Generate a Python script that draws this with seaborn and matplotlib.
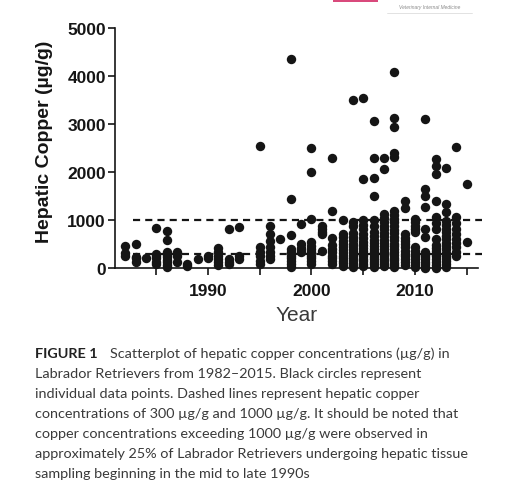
import pandas as pd
import seaborn as sns
from matplotlib import pyplot as plt
from matplotlib.patches import Rectangle

sns.set_theme(style="ticks")
plt.rcParams["font.family"] = ["Liberation Sans", "DejaVu Sans"]

# hepatic copper (ug/g), one list per year
years = list(range(1982, 2016))
copper_values = [
    [450, 320, 260],                                             # 1982
    [490, 230, 120, 200],                                        # 1983
    [200],                                                       # 1984
    [840, 290, 200, 120, 80, 250],                               # 1985
    [780, 590, 330, 220, 120, 20, 280, 170, 60],                 # 1986
    [330, 120, 250],                                             # 1987
    [50, 90],                                                    # 1988
    [190],                                                       # 1989
    [240, 200],                                                  # 1990
    [410, 260, 120, 60, 330, 180],                               # 1991
    [810, 190, 80, 130],                                         # 1992
    [860, 260, 190],                                             # 1993
    [],                                                          # 1994
    [2550, 430, 260, 150, 80, 330],                              # 1995
    [880, 710, 430, 260, 190, 330, 560],                         # 1996
    [600],                                                       # 1997
    [4350, 1440, 690, 400, 260, 150, 15, 330, 80, 200],          # 1998
    [920, 500, 330, 420, 380],                                   # 1999
    [2510, 2010, 1020, 540, 400, 260, 150, 330, 460, 200, 90],   # 2000
    [880, 710, 360, 740, 820],                                   # 2001
    [2300, 1180, 620, 330, 150, 250, 80, 200, 400, 470],         # 2002
    [990, 700, 560, 500, 440, 380, 320, 260, 200, 150, 100, 40, 640],
    [3510, 950, 880, 720, 650, 580, 510, 450, 390, 330, 270, 210, 160, 110, 60, 20],
    [3550, 1850, 990, 900, 810, 700, 620, 550, 480, 420, 360, 300, 240, 190, 140, 90, 40],
    [3060, 2300, 1870, 1510, 990, 880, 740, 660, 590, 520, 460, 400, 340, 290, 230, 180, 130, 80, 30],
    [2290, 2060, 1120, 1050, 960, 880, 810, 730, 660, 590, 520, 460, 400, 340, 290, 240, 190, 140, 90, 40],
    [4080, 3120, 2930, 2400, 2310, 1180, 1100, 1020, 960, 880, 800, 720, 650, 580, 510, 450, 390,
     330, 270, 210, 160, 110, 60, 20],
    [1400, 1260, 700, 620, 560, 500, 430, 360, 300, 240, 180, 120, 60],       # 2009
    [1020, 960, 880, 810, 740, 430, 360, 300, 240, 190, 130, 70, 20],          # 2010
    [3100, 1650, 1510, 1270, 810, 650, 330, 280, 230, 180, 130, 80, 30, 0],    # 2011
    [2270, 2130, 1960, 1400, 1060, 930, 820, 600, 480, 420, 360, 300, 240, 180, 120, 60, 10],
    [2080, 1330, 1160, 980, 900, 820, 740, 670, 600, 530, 460, 390, 320, 260, 200, 140, 80, 30],
    [2530, 1060, 940, 810, 700, 600, 520, 430, 340, 260],                      # 2014
    [1750, 540],                                                               # 2015
]

ref_levels = [300, 1000]

caption_lines = [
    "Labrador Retrievers from 1982\u20132015. Black circles represent",
    "individual data points. Dashed lines represent hepatic copper",
    "concentrations of 300 \u00b5g/g and 1000 \u00b5g/g. It should be noted that",
    "copper concentrations exceeding 1000 \u00b5g/g were observed in",
    "approximately 25% of Labrador Retrievers undergoing hepatic tissue",
    "sampling beginning in the mid to late 1990s",
]

df = pd.DataFrame({"year": years, "copper": copper_values}).explode("copper")
df = df.dropna()
df["year"] = df["year"].astype(float)
df["copper"] = df["copper"].astype(float)

W, H = 506, 502
fig = plt.figure(figsize=(W / 100, H / 100), dpi=100)
ax = fig.add_axes([115 / W, 1 - 269 / H, 363 / W, 240 / H])

ink = "#151515"
sns.scatterplot(data=df, x="year", y="copper", ax=ax, color=ink, s=46,
                linewidth=0, clip_on=False, zorder=3)

for lvl in ref_levels:
    ax.hlines(lvl, 1982.7, 2016.5, colors=ink, linestyles=(0, (3.2, 2.3)),
              linewidth=1.6, clip_on=False, zorder=2)

ax.set_xlim(1981, 2016.1)
ax.set_ylim(0, 5000)
ax.set_xticks([1990, 2000, 2010])
ax.set_xticks([1985, 1995, 2005, 2015], minor=True)
ax.set_yticks([0, 1000, 2000, 3000, 4000, 5000])
sns.despine(ax=ax)
for side in ["left", "bottom"]:
    ax.spines[side].set_linewidth(1.2)
    ax.spines[side].set_color(ink)
ax.tick_params(axis="both", which="both", length=5, width=1.2, color=ink,
               labelsize=12.5, labelcolor=ink)
ax.tick_params(axis="y", pad=1.5)
ax.tick_params(axis="x", pad=6)
for lab in ax.get_xticklabels() + ax.get_yticklabels():
    lab.set_fontweight("bold")

ax.set_ylabel("Hepatic Copper (\u00b5g/g)", fontsize=14, fontweight="bold", color=ink)
ax.yaxis.set_label_coords(-0.17, 0.53)
ax.set_xlabel("Year", fontsize=15, color="#3a3a3a")
ax.xaxis.set_label_coords(0.5, -0.155)

# caption below the chart
cap_font = ["Lato", "DejaVu Sans"]
cap_size = 10.4
fig.text(35 / W, 1 - 357.7 / H, "FIGURE 1", fontsize=cap_size, fontweight="bold",
         color="#222222", family=cap_font, va="baseline")
fig.text(110 / W, 1 - 357.7 / H,
         "Scatterplot of hepatic copper concentrations (\u00b5g/g) in",
         fontsize=cap_size, color="#3a3a3a", family=cap_font, va="baseline")
for i, line in enumerate(caption_lines):
    fig.text(35 / W, 1 - (377.7 + 20 * i) / H, line, fontsize=cap_size,
             color="#3a3a3a", family=cap_font, va="baseline")

# cropped journal header at the top
fig.patches.append(Rectangle((333 / W, 1 - 3 / H), 45 / W, 3 / H,
                             transform=fig.transFigure, color="#d94a7c", lw=0))
fig.text(430 / W, 1 - 8 / H, "Veterinary Internal Medicine", fontsize=3.5,
         color="#8a8a8a", ha="center", va="center", style="italic")
fig.add_artist(plt.Line2D([387 / W, 472 / W], [1 - 14 / H, 1 - 14 / H],
                          transform=fig.transFigure, color="#dddddd", lw=0.6))

fig.savefig("out.png", dpi=100)
